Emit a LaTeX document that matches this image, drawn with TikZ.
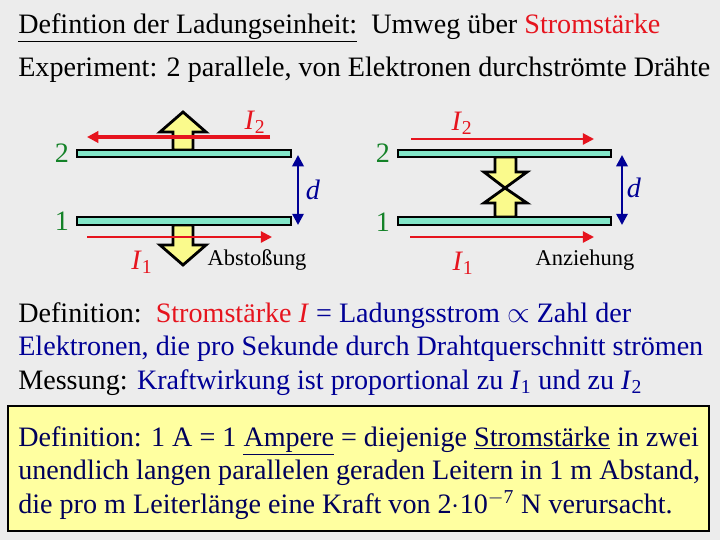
\documentclass[tikz,border=0pt]{standalone}
\usepackage{fontspec}
\setmainfont{Liberation Serif}
\usetikzlibrary{arrows.meta,positioning}
\definecolor{bgray}{RGB}{236,236,236}
\definecolor{wirecyan}{RGB}{130,230,200}
\definecolor{fyellow}{RGB}{250,250,140}
\definecolor{boxyellow}{RGB}{255,255,160}
\definecolor{gr}{RGB}{20,130,40}
\definecolor{rd}{RGB}{230,20,30}
\definecolor{bl}{RGB}{0,0,150}
\definecolor{nv}{RGB}{0,0,90}
\def\rt(#1){\textcolor{rd}{#1}}
\def\Iv(#1){\textit{I}\textsubscript{#1}}
\tikzset{
  txt/.style={anchor=west,inner sep=0pt,font=\fontsize{20}{23.6}\selectfont},
  wire/.style={draw,line width=1.6pt,fill=wirecyan},
  force/.style={draw,line width=2pt,fill=fyellow,line join=miter},
  cur/.style={draw=rd,line width=2.2pt,-{Triangle[length=8pt,width=8pt]}},
  dist/.style={draw=bl,line width=1.8pt,{Triangle[length=8pt,width=8pt]}-{Triangle[length=8pt,width=8pt]}},
  lbl/.style={font=\fontsize{20}{22}\selectfont,inner sep=0pt},
  sml/.style={font=\fontsize{16}{18}\selectfont,inner sep=0pt}
}
\begin{document}
\begin{tikzpicture}[x=0.025cm,y=-0.025cm]
\fill[bgray] (0,0) rectangle (720,540);

\node[txt] (t1) at (18,28) {\underline{Defintion der Ladungseinheit:}\ \ Umweg über \rt(Stromstärke)};
\node[txt] (t2) at (18,70) {Experiment: 2 parallele, von Elektronen durchströmte Drähte};

% left: Abstossung
\draw[force] (173,150)--(173,132)--(160,132)--(183,112)--(206,132)--(193,132)--(193,150)--cycle;
\draw[force] (173,225)--(173,245)--(160,245)--(183,265)--(206,245)--(193,245)--(193,225)--cycle;
\draw[wire] (77,150) rectangle (291,157);
\draw[wire] (77,217) rectangle (291,225);
\coordinate (a2s) at (270,137); \coordinate (a2e) at (87,137);
\coordinate (a1s) at (87,237); \coordinate (a1e) at (272,237);
\draw[cur] (a2s)--(a2e);
\draw[cur,line width=1.6pt] (a1s)--(a1e);
\coordinate (da) at (298,155); \coordinate (db) at (298,225);
\draw[dist] (da)--(db);
\node[lbl,gr] (n2a) at (62,153) {2};
\node[lbl,gr] (n1a) at (62,221) {1};
\node[lbl,rd] (i2a) at (255,122) {\Iv(2)};
\node[lbl,rd] (i1a) at (142,262) {\Iv(1)};
\node[lbl,bl] (dda) at (313,190) {\textit{d}};
\node[sml] (abs) at (257,260) {Abstoßung};

% right: Anziehung
\draw[force] (495,157)--(495,172)--(484,172)--(505,188)--(527,172)--(516,172)--(516,157)--cycle;
\draw[force] (495,217)--(495,203)--(484,203)--(505,188)--(527,203)--(516,203)--(516,217)--cycle;
\draw[wire] (398,150) rectangle (611,157);
\draw[wire] (398,217) rectangle (611,225);
\coordinate (b2s) at (411,139); \coordinate (b2e) at (594,139);
\coordinate (b1s) at (410,237); \coordinate (b1e) at (594,237);
\draw[cur,line width=1.6pt] (b2s)--(b2e);
\draw[cur,line width=1.6pt] (b1s)--(b1e);
\coordinate (dc) at (622,155); \coordinate (dd) at (622,225);
\draw[dist] (dc)--(dd);
\node[lbl,gr] (n2b) at (383,153) {2};
\node[lbl,gr] (n1b) at (383,222) {1};
\node[lbl,rd] (i2b) at (462,123) {\Iv(2)};
\node[lbl,rd] (i1b) at (463,263) {\Iv(1)};
\node[lbl,bl] (ddb) at (634,188) {\textit{d}};
\node[sml] (anz) at (585,260) {Anziehung};

\node[txt,align=left,anchor=west] (def) at (18,349) {Definition:\ \ \rt(Stromstärke \textit{I}) \textcolor{bl}{= Ladungsstrom $\propto$ Zahl der}\\
\textcolor{bl}{Elektronen, die pro Sekunde durch Drahtquerschnitt strömen}\\
Messung: \textcolor{bl}{Kraftwirkung ist proportional zu \Iv(1) und zu \Iv(2)}};

\draw[fill=boxyellow,line width=1.8pt] (8,406) rectangle (709,531);
\node[txt,align=left,anchor=west,nv,font=\fontsize{20}{24}\selectfont] (box) at (18,473) {Definition: 1 A = 1 \underline{Ampere} = diejenige \underline{Stromstärke} in zwei\\
unendlich langen parallelen geraden Leitern in 1 m Abstand,\\
die pro m Leiterlänge eine Kraft von 2$\cdot$10\textsuperscript{$-$7} N verursacht.};
\end{tikzpicture}
\end{document}
